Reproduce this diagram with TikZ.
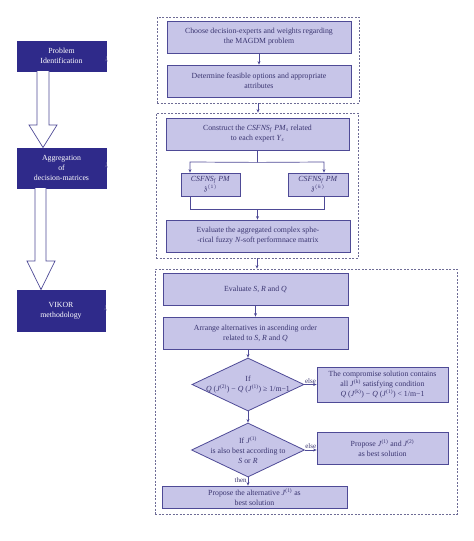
\documentclass[tikz,border=0pt]{standalone}
\usepackage{amssymb}
\usepackage{fontspec}
\setmainfont{Liberation Serif}
\usetikzlibrary{arrows.meta,shapes.geometric,calc}
\definecolor{stagecol}{HTML}{2F2A8A}
\definecolor{lightfill}{HTML}{C7C5E8}
\definecolor{edgecol}{HTML}{4E4A96}
\definecolor{txtcol}{HTML}{3A3570}
\definecolor{dashcol}{HTML}{6E6C96}
\newcommand{\Jx}[1]{\textit{J}\textsuperscript{(#1)}}
\newcommand{\CSF}{\textit{CSFNS}\textsubscript{\textit{f}}}
\begin{document}
\begin{tikzpicture}[x=1pt,y=-1pt,
  font=\fontsize{7.8}{10}\selectfont,
  stage/.style={draw=stagecol, fill=stagecol, text=white, align=center, inner sep=0pt},
  box/.style={draw=edgecol, line width=0.8pt, fill=lightfill, text=txtcol, align=center, inner sep=0pt},
  group/.style={draw=dashcol, dash pattern=on 2pt off 1.5pt, line width=0.8pt, inner sep=0pt},
  dia/.style={diamond, draw=edgecol, line width=0.8pt, fill=lightfill, inner sep=0pt},
  diatext/.style={text=txtcol, align=center, inner sep=0pt},
  conn/.style={draw=edgecol, line width=0.7pt, -{Stealth[length=3.5pt,width=3pt]}},
  plain/.style={draw=edgecol, line width=0.7pt},
  hollow/.style={draw=edgecol, fill=white, line width=0.7pt, line join=miter},
  lbl/.style={text=txtcol, inner sep=1pt, font=\fontsize{7}{8}\selectfont}]
\useasboundingbox (0,0) rectangle (474,541);

% stage boxes
\node[stage, minimum width=89pt, minimum height=30pt] (pi) at (61.5,56) {Problem\\Identification};
\node[stage, minimum width=89pt, minimum height=40pt] (ag) at (61.5,168) {Aggregation\\of\\decision-matrices};
\node[stage, minimum width=88pt, minimum height=41pt] (vk) at (61,310.5) {VIKOR\\methodology};

% hollow block arrows
\draw[hollow] (37,71) -- (37,125) -- (29,125) -- (43,147.5) -- (57,125) -- (49,125) -- (49,71);
\draw[hollow] (35,188) -- (35,261) -- (27,261) -- (41,289.5) -- (55,261) -- (46,261) -- (46,188);

% dashed groups
\node[group, minimum width=202pt, minimum height=86pt] (d1) at (258,60) {};
\node[group, minimum width=202pt, minimum height=145pt] (d2) at (257,185.5) {};
\node[group, minimum width=302pt, minimum height=245pt] (d3) at (306,391.5) {};

% group 1
\node[box, minimum width=184pt, minimum height=32pt] (c1) at (259,37) {Choose decision-experts and weights regarding\\the MAGDM problem};
\node[box, minimum width=184pt, minimum height=32pt] (c2) at (259,81) {Determine feasible options and appropriate\\attributes};

% group 2
\node[box, minimum width=183pt, minimum height=32pt] (a1) at (257.5,134) {Construct the \CSF\ \textit{PM}\textsubscript{\textit{s}} related\\to each expert \textit{Y}\textsubscript{\textit{s}}};
\node[box, minimum width=59pt, minimum height=23pt] (a2l) at (210.5,184.5) {\CSF\ \textit{PM}\\[-1pt]$\mathfrak{z}^{(1)}$};
\node[box, minimum width=60pt, minimum height=23pt] (a2r) at (318,184.5) {\CSF\ \textit{PM}\\[-1pt]$\mathfrak{z}^{(k)}$};
\node[box, minimum width=184pt, minimum height=32pt] (a3) at (258,236) {Evaluate the aggregated complex sphe-\\-rical fuzzy \textit{N}-soft performnace matrix};

% group 3
\node[box, minimum width=185pt, minimum height=32pt] (v1) at (255.5,289) {Evaluate \textit{S}, \textit{R} and \textit{Q}};
\node[box, minimum width=185pt, minimum height=32pt] (v2) at (255.5,333) {Arrange alternatives in ascending order\\related to \textit{S}, \textit{R} and \textit{Q}};
\node[dia, minimum width=112pt, minimum height=53pt] (q1) at (248,384.5) {};
\node[diatext] (q1t) at (q1.center) {If\\\textit{Q} (\Jx{2}) − \textit{Q} (\Jx{1}) ≥ 1/m−1};
\node[box, minimum width=131pt, minimum height=35pt] (cs) at (382.5,384.5) {The compromise solution contains\\all \Jx{k} satisfying condition\\\textit{Q} (\Jx{k}) − \textit{Q} (\Jx{1}) {\textless} 1/m−1};
\node[dia, minimum width=113pt, minimum height=54pt] (q2) at (248,450) {};
\node[diatext] (q2t) at (q2.center) {If \Jx{1}\\is also best according to\\\textit{S} or \textit{R}};
\node[box, minimum width=131pt, minimum height=32pt] (p2) at (382.5,448.5) {Propose \Jx{1} and \Jx{2}\\as best solution};
\node[box, minimum width=185pt, minimum height=22pt] (fin) at (254.5,497) {Propose the alternative \Jx{1} as\\best solution};

% connectors stage -> groups
\draw[conn] ($(pi.east)+(0,2)$) -- ($(pi.east)+(0,2)$ -| d1.west);
\draw[conn] ($(ag.east)+(0,-4)$) -- ($(ag.east)+(0,-4)$ -| d2.west);
\draw[conn] ($(vk.east)+(0,-3.5)$) -- ($(vk.east)+(0,-3.5)$ -| d3.west);

% group connectors
\draw[conn] (c1) -- (c2);
\draw[conn] (d1.south) -- (d1.south |- d2.north);
\draw[conn] (d2.south) -- (d2.south |- d3.north);

% split and merge
\coordinate (sp) at ($(a1.south)+(0,12)$);
\coordinate (spl) at (190,162);
\coordinate (spr) at (324,162);
\draw[plain] (a1.south) -- (sp);
\draw[conn] (sp) -- (spl) -- (spl |- a2l.north);
\draw[conn] (sp) -- (spr) -- (spr |- a2r.north);
\coordinate (mg) at (257.5,209);
\draw[plain] (spl |- a2l.south) -- (190,209) -- (324,209) -- (spr |- a2r.south);
\draw[conn] (mg) -- (mg |- a3.north);

% VIKOR flow
\draw[conn] (v1) -- (v2);
\draw[conn] (q1.north |- v2.south) -- (q1.north);
\draw[conn] (q1.east) -- node[lbl, above] {else} (cs.west |- q1.east);
\draw[conn] (q1.south) -- (q2.north);
\draw[conn] (q2.east) -- node[lbl, above] {else} (p2.west |- q2.east);
\draw[conn] (q2.south) -- node[lbl, left, pos=0.3] {then} (q2.south |- fin.north);
\end{tikzpicture}
\end{document}
